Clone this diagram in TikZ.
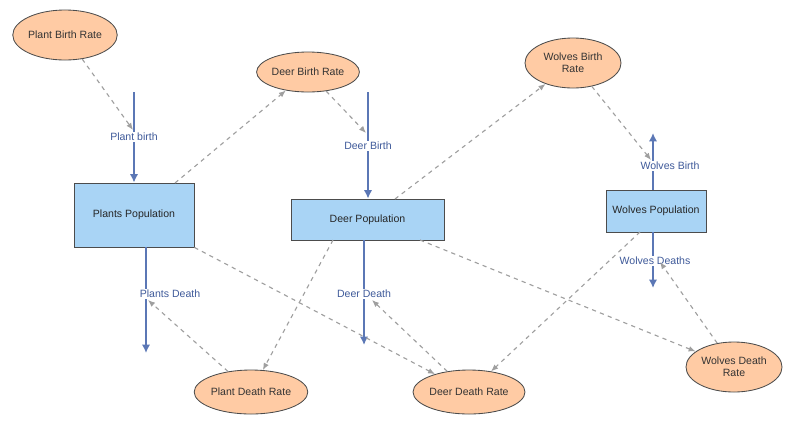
\documentclass[tikz,border=0pt]{standalone}
\usepackage{fontspec}
\setmainfont{Liberation Sans}
\usetikzlibrary{shapes.geometric,arrows.meta}
\definecolor{ratefill}{HTML}{FFCBA4}
\definecolor{popfill}{HTML}{A9D4F5}
\definecolor{flowc}{HTML}{5B77B5}
\definecolor{labc}{HTML}{3F5A9A}
\begin{document}
\begin{tikzpicture}[x=0.025cm,y=-0.025cm,
 rate/.style={ellipse,draw=black!70,fill=ratefill,line width=0.6pt,inner sep=0pt,font=\fontsize{7.5}{8.5}\selectfont,text=black!80,align=center},
 pop/.style={rectangle,draw=black!70,fill=popfill,line width=0.6pt,inner sep=0pt,font=\fontsize{7.5}{8.5}\selectfont,text=black!85},
 flow/.style={draw=flowc,line width=1.6pt,-{Latex[length=6pt,width=6pt]}},
 flab/.style={fill=white,inner sep=1pt,font=\fontsize{7.5}{8.5}\selectfont,text=labc},
 dep/.style={draw=gray!75,dashed,line width=0.8pt,-{Latex[length=5pt,width=4pt]}}]
\useasboundingbox (0,0) rectangle (800,422);
% rates
\node[rate,minimum width=2.35cm,minimum height=1.25cm] (pbr) at (65,35) {Plant Birth Rate};
\node[rate,minimum width=2.4cm,minimum height=1.0cm] (dbr) at (308,72) {Deer Birth Rate};
\node[rate,minimum width=2.4cm,minimum height=1.25cm] (wbr) at (573,63) {Wolves Birth\\Rate};
\node[rate,minimum width=2.4cm,minimum height=1.1cm] (pdr) at (251,392) {Plant Death Rate};
\node[rate,minimum width=2.4cm,minimum height=1.1cm] (ddr) at (469,392) {Deer Death Rate};
\node[rate,minimum width=2.4cm,minimum height=1.25cm] (wdr) at (734,367) {Wolves Death\\Rate};
% populations
\node[pop,minimum width=3.0cm,minimum height=1.6cm] (pp) at (134,215) {Plants Population};
\node[pop,minimum width=3.825cm,minimum height=1.025cm] (dp) at (367.5,219.5) {Deer Population};
\node[pop,minimum width=2.5cm,minimum height=1.05cm] (wp) at (656,211) {Wolves Population};
% flows
\coordinate (pbs) at (134,92);
\coordinate (dbs) at (368,92);
\coordinate (wbe) at (653,133);
\coordinate (pde) at (146,353);
\coordinate (dde) at (364,345);
\coordinate (wde) at (653,288);
\draw[flow] (pbs) -- (pbs|-pp.north);
\draw[flow] (dbs) -- (dbs|-dp.north);
\draw[flow] (wbe|-wp.north) -- (wbe);
\draw[flow] (pde|-pp.south) -- (pde);
\draw[flow] (dde|-dp.south) -- (dde);
\draw[flow] (wde|-wp.south) -- (wde);
\node[flab] (pbl) at (134,137) {Plant birth};
\node[flab] (dbl) at (368,146) {Deer Birth};
\node[flab] (wbl) at (670,166) {Wolves Birth};
\node[flab] (pdl) at (170,294) {Plants Death};
\node[flab] (ddl) at (364,294) {Deer Death};
\node[flab] (wdl) at (655,261) {Wolves Deaths};
\coordinate (pbf) at (133,130);
\coordinate (dbf) at (366,133);
\coordinate (wbf) at (651,160);
\coordinate (pdf) at (148,300);
\coordinate (ddf) at (372,300);
\coordinate (wdf) at (660,262);
% dependencies
\draw[dep] (pbr) -- (pbf);
\draw[dep] (175,183) -- (dbr);
\draw[dep] (dbr) -- (dbf);
\draw[dep] (395,199) -- (wbr);
\draw[dep] (wbr) -- (wbf);
\draw[dep] (pdr) -- (pdf);
\draw[dep] (333,240) -- (pdr);
\draw[dep] (pp.south east) -- (ddr);
\draw[dep] (ddr) -- (ddf);
\draw[dep] (640,232) -- (ddr);
\draw[dep] (420,240) -- (wdr);
\draw[dep] (wdr) -- (wdf);
\end{tikzpicture}
\end{document}
